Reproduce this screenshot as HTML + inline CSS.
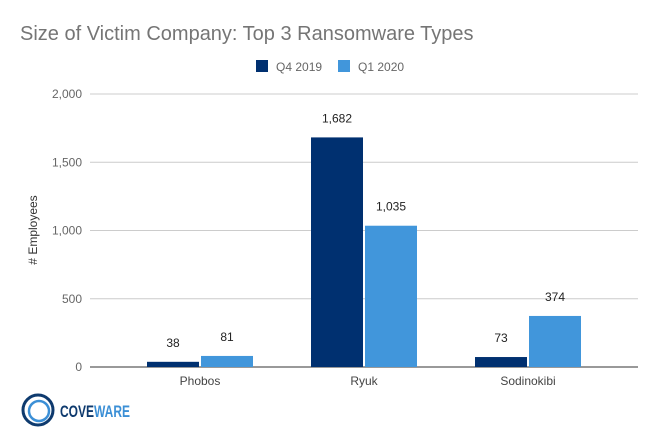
<!DOCTYPE html>
<html><head><meta charset="utf-8"><style>
body{margin:0;background:#fff;}
svg{display:block;font-family:"Liberation Sans",Roboto,sans-serif;}
</style></head><body>
<svg id="c" width="660" height="440">
<text x="20" y="40" font-size="20" fill="#757575">Size of Victim Company: Top 3 Ransomware Types</text>
<g>
<rect x="256" y="60" width="12" height="12" fill="#003070"/>
<text x="276" y="71" font-size="12" fill="#666">Q4 2019</text>
<rect x="338" y="60" width="12" height="12" fill="#4196db"/>
<text x="358" y="71" font-size="12" fill="#666">Q1 2020</text>
</g>
<text transform="translate(37,230) rotate(-90)" text-anchor="middle" font-size="12" fill="#333"># Employees</text>
<g id="grid"></g><g id="bars"></g>
<g>
<circle cx="38" cy="410" r="15" fill="none" stroke="#0e3a6e" stroke-width="3"/>
<circle cx="39" cy="411" r="10" fill="none" stroke="#3b8fd6" stroke-width="2.5"/>
<text x="60" y="417" font-size="17" font-weight="bold" fill="#0e3a6e" textLength="70" lengthAdjust="spacingAndGlyphs">COVE<tspan fill="#3b8fd6">WARE</tspan></text>
</g>
</svg>
<script>
const categories=["Phobos","Ryuk","Sodinokibi"];
const q4=[38,1682,73];
const q1=[81,1035,374];
const ticks=[0,500,1000,1500,2000];
const tickLabels=["0","500","1,000","1,500","2,000"];
const ns="http://www.w3.org/2000/svg";
const y=v=>367-v*(273/2000);
const xc=i=>200+i*164;
function mk(t,a,p){const e=document.createElementNS(ns,t);for(const k in a)e.setAttribute(k,a[k]);p.appendChild(e);return e;}
const g=document.getElementById('grid'),b=document.getElementById('bars');
ticks.forEach((t,i)=>{
 const l=mk('line',{x1:90,x2:638,y1:y(t),y2:y(t),stroke:t===0?'#333':'#ccc','stroke-width':1},g);
 
 
 const tx=mk('text',{x:82,y:y(t)+4,'text-anchor':'end','font-size':12,fill:'#666'},g);
 tx.textContent=tickLabels[i];
 
 
});
categories.forEach((c,i)=>{
 [[q4,'#003070',-53,'q4'],[q1,'#4196db',1,'q1']].forEach(([s,col,off,n])=>{
  const v=s[i],x=xc(i)+off;
  const r=mk('rect',{x:x,y:y(v),width:52,height:367-y(v),fill:col},b);
  
  
  const t=mk('text',{x:x+26,y:y(v)-15,'text-anchor':'middle','font-size':12,fill:'#222'},b);
  t.textContent=v.toLocaleString('en-US');
  
  
 });
 const t=mk('text',{x:xc(i),y:385,'text-anchor':'middle','font-size':12,fill:'#444'},b);
 t.textContent=c;
 
 
});
</script>
</body></html>
